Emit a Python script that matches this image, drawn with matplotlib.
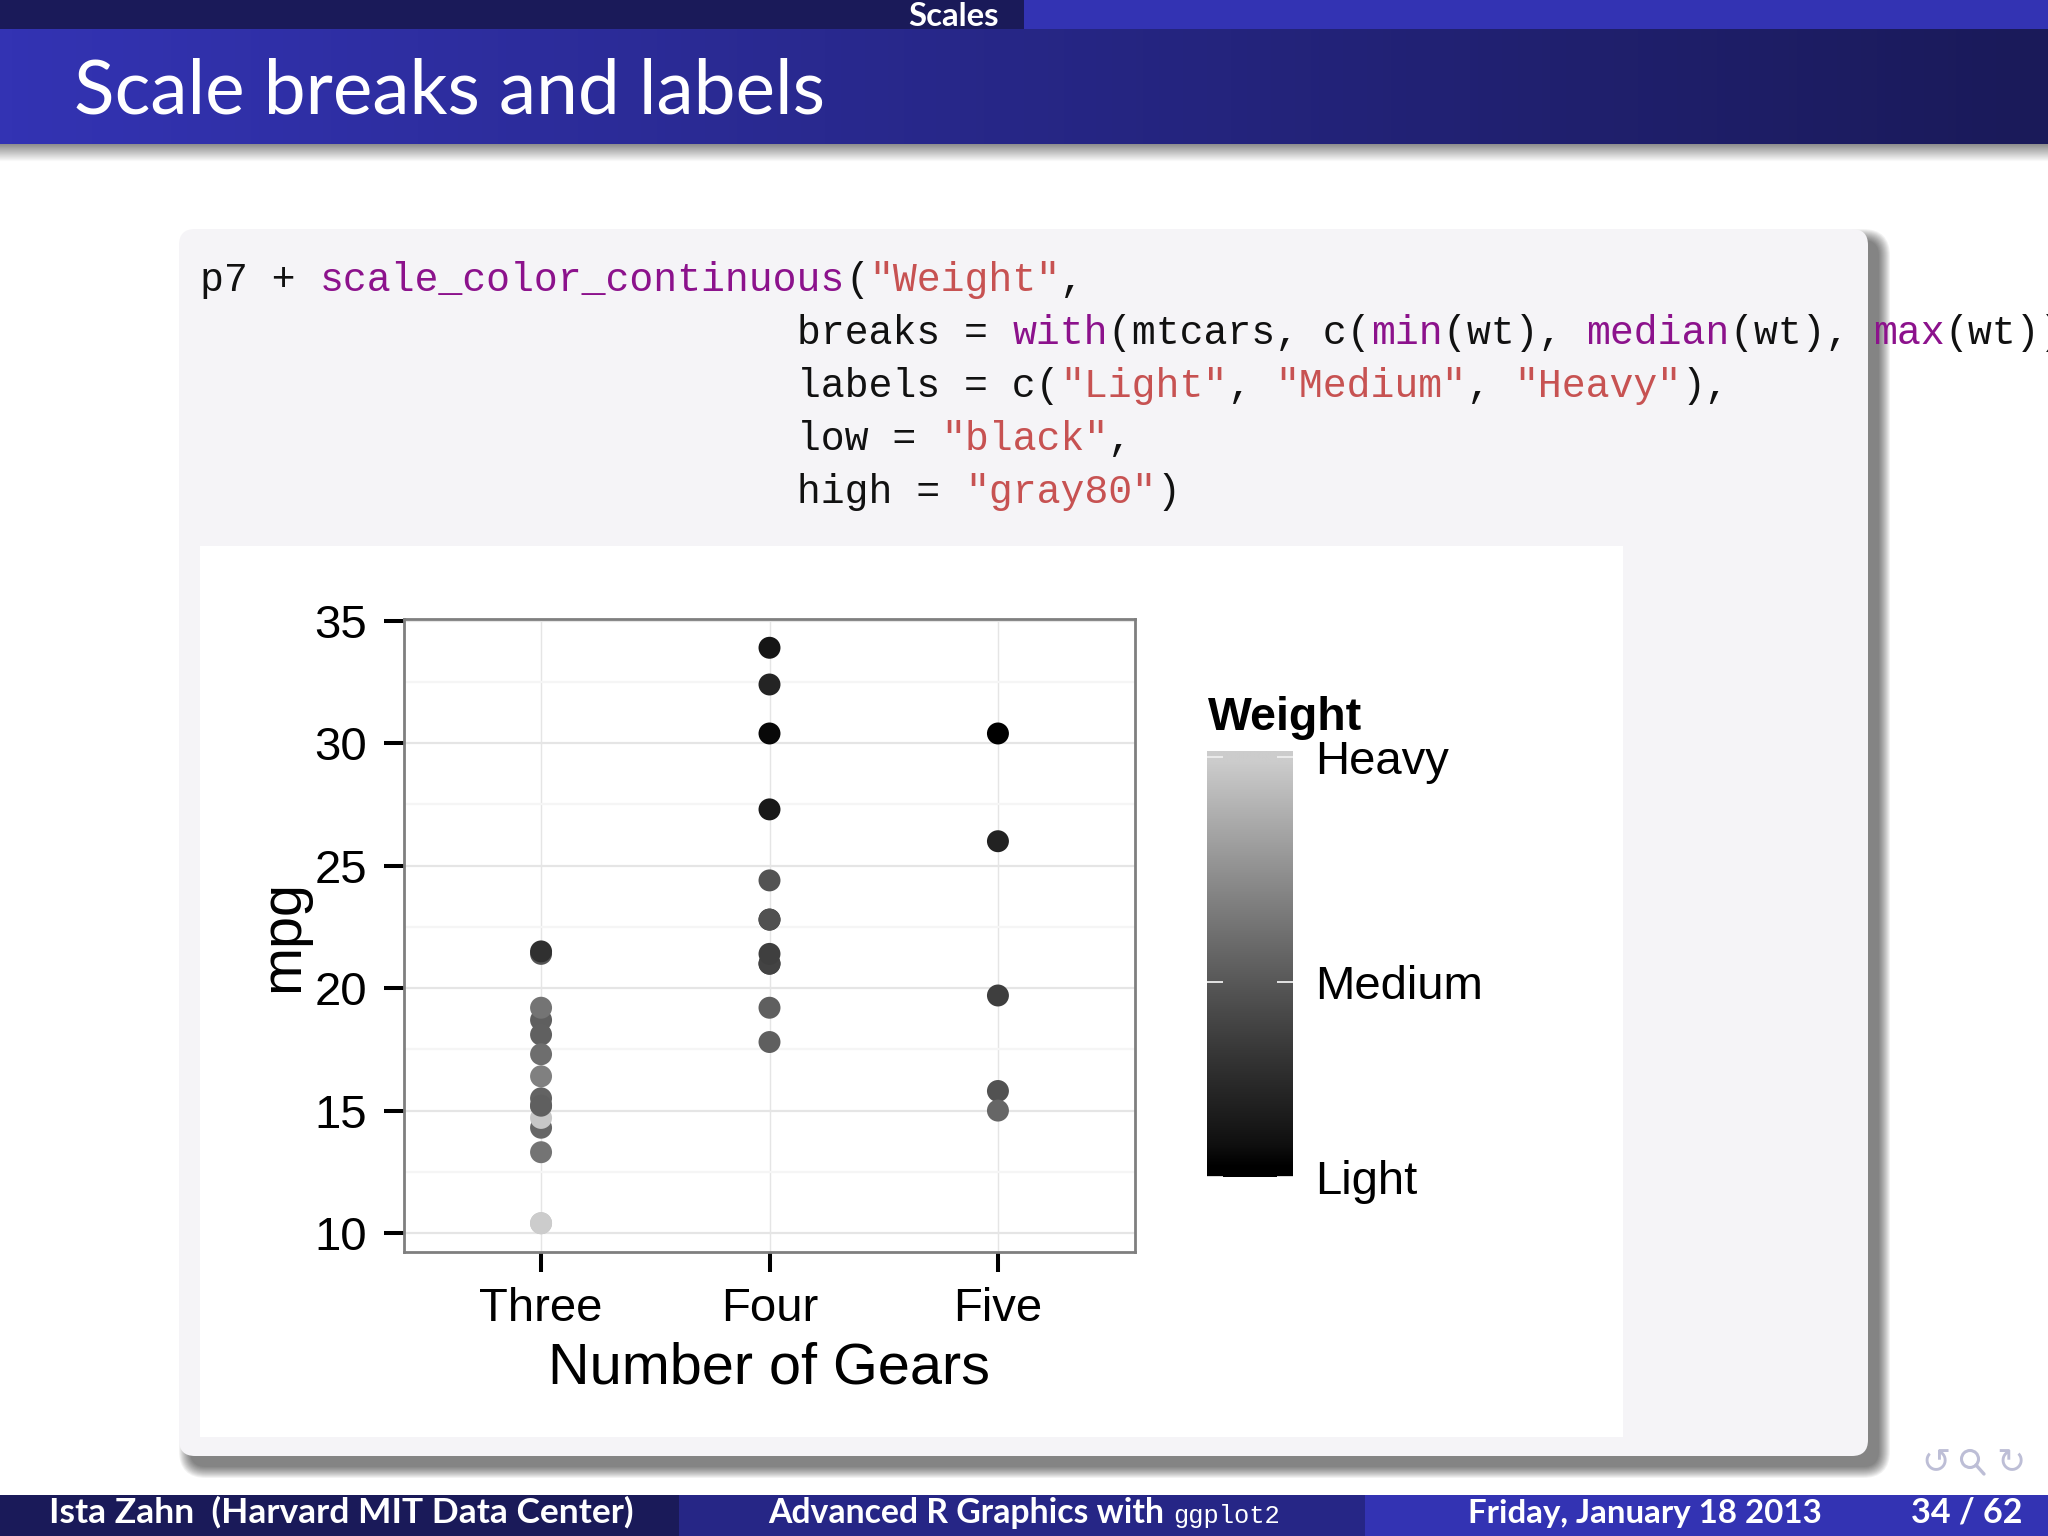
import matplotlib
matplotlib.use('Agg')

import matplotlib.pyplot as plt
import numpy as np
from matplotlib.patches import FancyBboxPatch, Rectangle, Circle
from matplotlib.colors import LinearSegmentedColormap

plt.rcParams['font.family'] = ['Liberation Sans', 'DejaVu Sans']

# mtcars: mpg, wt, gear
mpg = [21.0, 21.0, 22.8, 21.4, 18.7, 18.1, 14.3, 24.4, 22.8, 19.2, 17.8,
       16.4, 17.3, 15.2, 10.4, 10.4, 14.7, 32.4, 30.4, 33.9, 21.5, 15.5,
       15.2, 13.3, 19.2, 27.3, 26.0, 30.4, 15.8, 19.7, 15.0, 21.4]
wt = [2.620, 2.875, 2.320, 3.215, 3.440, 3.460, 3.570, 3.190, 3.150, 3.440,
      3.440, 4.070, 3.730, 3.780, 5.250, 5.424, 5.345, 2.200, 1.615, 1.835,
      2.465, 3.520, 3.435, 3.840, 3.845, 1.935, 2.140, 1.513, 3.170, 2.770,
      3.570, 2.780]
gear = [4, 4, 4, 3, 3, 3, 3, 4, 4, 4, 4, 3, 3, 3, 3, 3, 3, 4, 4, 4, 3, 3,
        3, 3, 3, 4, 5, 5, 5, 5, 5, 4]
gear_levels = [3, 4, 5]
gear_labels = ['Three', 'Four', 'Five']
weight_labels = ['Light', 'Medium', 'Heavy']
y_breaks = [10, 15, 20, 25, 30, 35]

# code shown on the slide, split into highlighted tokens
K, P, S = '#111111', '#8C128C', '#C75252'
code_lines = [
    [('p7 + ', K), ('scale_color_continuous', P), ('(', K), ('"Weight"', S), (',', K)],
    [(' ' * 25 + 'breaks = ', K), ('with', P), ('(mtcars, c(', K), ('min', P),
     ('(wt), ', K), ('median', P), ('(wt), ', K), ('max', P), ('(wt)),', K)],
    [(' ' * 25 + 'labels = c(', K), ('"Light"', S), (', ', K), ('"Medium"', S),
     (', ', K), ('"Heavy"', S), ('),', K)],
    [(' ' * 25 + 'low = ', K), ('"black"', S), (',', K)],
    [(' ' * 25 + 'high = ', K), ('"gray80"', S), (')', K)],
]

W, H = 2048, 1536
fig = plt.figure(figsize=(W / 100, H / 100), dpi=100)
rend = fig.canvas.get_renderer()


def px_rect(x0, y0, x1, y1):
    return [x0 / W, 1 - y1 / H, (x1 - x0) / W, (y1 - y0) / H]


def fit(t, width):
    bb = t.get_window_extent(renderer=rend)
    t.set_fontsize(t.get_fontsize() * width / bb.width)


# ggplot's black -> gray80 gradient, interpolated in Lab space
wmin, wmax = min(wt), max(wt)
lin80 = ((0.8 + 0.055) / 1.055) ** 2.4
L_hi = 116 * lin80 ** (1 / 3) - 16


def lab_gray(v):
    t = (np.asarray(v, float) - wmin) / (wmax - wmin)
    fy = (t * L_hi + 16) / 116
    Y = np.where(fy > 6 / 29, fy ** 3, 3 * (6 / 29) ** 2 * (fy - 4 / 29))
    return np.where(Y > 0.0031308, 1.055 * np.clip(Y, 1e-9, None) ** (1 / 2.4) - 0.055, 12.92 * Y)


# ---------- slide background ----------
bg = fig.add_axes([0, 0, 1, 1])
bg.axis('off')

dark, mid, blue = '#1A1A59', '#262686', '#3333B3'
bg.add_patch(Rectangle((0, 0), 1024, 29, color=dark, lw=0))
bg.add_patch(Rectangle((1024, 0), 1024, 29, color=blue, lw=0))
band = LinearSegmentedColormap.from_list('band', [blue, dark])
bg.imshow(np.linspace(0, 1, 256)[None, :], cmap=band, extent=[0, W, 144, 29],
          aspect='auto', interpolation='bilinear')
shade = np.zeros((32, 1, 4))
shade[:, 0, 3] = np.linspace(0.45, 0, 32)
bg.imshow(shade, extent=[0, W, 162, 144], aspect='auto', interpolation='bilinear')

t = bg.text(908, 26.5, 'Scales', color='white', fontsize=16, family='Lato',
            fontweight='bold', va='baseline')
fit(t, 91)
t = bg.text(74, 114, 'Scale breaks and labels', color='white', fontsize=50,
            family='Lato', fontweight='normal', va='baseline')
fit(t, 752)

# code block with shadow
for k in range(12):
    bg.add_patch(FancyBboxPatch((179 + 11 - k, 229 + 11 - k), 1689 + 2 * k, 1227 + 2 * k,
                                boxstyle='round,pad=0,rounding_size=%d' % (16 + k),
                                fc='black', ec='none', alpha=0.05))
bg.add_patch(FancyBboxPatch((179, 229), 1689, 1227, boxstyle='round,pad=0,rounding_size=16',
                            fc='#F5F4F7', ec='none'))
bg.add_patch(Rectangle((200, 546), 1423, 891, fc='white', ec='none'))

x0, cw = 200, 23.9
baselines = [291, 344, 397, 450, 503]
for line, yb in zip(code_lines, baselines):
    col = 0
    for tok, c in line:
        bg.text(x0 + col * cw, yb, tok, color=c, family='Liberation Mono',
                fontsize=cw / 0.6 * 0.72, va='baseline')
        col += len(tok)

# footer
bg.add_patch(Rectangle((0, 1495), 679, 41, color=dark, lw=0))
bg.add_patch(Rectangle((679, 1495), 686, 41, color=mid, lw=0))
bg.add_patch(Rectangle((1365, 1495), 683, 41, color=blue, lw=0))
foot = dict(color='white', family='Lato', fontweight='bold', fontsize=18, va='baseline')
fit(bg.text(49, 1523, 'Ista Zahn  (Harvard MIT Data Center)', **foot), 586)
fit(bg.text(768, 1523, 'Advanced R Graphics with', **foot), 397)
t = bg.text(1173, 1523, 'ggplot2', color='white', family='Liberation Mono', fontsize=18,
            va='baseline')
fit(t, 107)
fit(bg.text(1468, 1523, 'Friday, January 18 2013', **foot), 355)
fit(bg.text(1911, 1523, '34 / 62', **foot), 112)

# navigation symbols
nav = '#BDBED6'
bg.text(1936, 1463, '\u21ba', color=nav, fontsize=25, family='DejaVu Sans',
        ha='center', va='center')
bg.text(2011, 1463, '\u21bb', color=nav, fontsize=25, family='DejaVu Sans',
        ha='center', va='center')
bg.add_patch(Circle((1970, 1459), 8.5, fc='none', ec=nav, lw=2.2))
bg.plot([1976, 1984], [1465, 1474], color=nav, lw=2.4, solid_capstyle='round')

bg.set_xlim(0, W)
bg.set_ylim(H, 0)

# ---------- the ggplot panel ----------
ax = fig.add_axes(px_rect(404, 619, 1135, 1252))
xpos = [gear_levels.index(g) + 1 for g in gear]
g = lab_gray(wt)
ax.scatter(xpos, mpg, s=250, c=np.stack([g, g, g], axis=1), linewidths=0, zorder=3)
ax.set_xlim(0.4, 3.6)
ax.set_ylim(9.225, 35.075)
ax.set_xticks([1, 2, 3])
ax.set_xticklabels(gear_labels)
ax.set_yticks(y_breaks)
ax.set_yticks(np.arange(12.5, 35, 5), minor=True)
ax.set_axisbelow(True)
ax.grid(which='major', axis='y', color='#E5E5E5', lw=1.6)
ax.grid(which='major', axis='x', color='#E5E5E5', lw=1.0)
ax.grid(which='minor', axis='y', color='#F5F5F5', lw=1.6)
ax.tick_params(which='major', length=14.4, width=2.9, color='black', labelsize=34,
               labelcolor='black', direction='out')
ax.tick_params(axis='x', pad=10.8)
ax.tick_params(axis='y', pad=12.2)
ax.tick_params(which='minor', length=0)
for sp in ax.spines.values():
    sp.set_color('#7F7F7F')
    sp.set_linewidth(2.0)
ax.set_xlabel('Number of Gears', fontsize=41.5)
ax.xaxis.set_label_coords(0.5, -0.142)
ax.set_ylabel('mpg', fontsize=41.5)
ax.yaxis.set_label_coords(-0.1286, 0.5)

# ---------- colour bar legend ----------
breaks = [wmin, float(np.median(wt)), wmax]
top = wmax + 6 * (wmax - wmin) / 420
cax = fig.add_axes(px_rect(1207, 751, 1293, 1177))
vals = np.linspace(wmin, wmax, 20)
gv = lab_gray(vals)
cax.imshow(np.stack([gv, gv, gv], axis=1)[:, None, :], extent=[0, 1, wmin, top],
           origin='lower', aspect='auto', interpolation='bilinear')
cax.hlines(breaks, 0, 0.19, color='#EEEEEE', lw=1.3)
cax.hlines(breaks, 0.81, 1, color='#EEEEEE', lw=1.3)
cax.set_xlim(0, 1)
cax.set_ylim(wmin, top)
cax.set_xticks([])
cax.set_yticks(breaks)
cax.set_yticklabels(weight_labels)
cax.yaxis.tick_right()
cax.tick_params(axis='y', length=0, pad=15.8, labelsize=34)
for sp in cax.spines.values():
    sp.set_visible(False)

bg.text(1208, 730, 'Weight', fontsize=33.5, fontweight='bold', va='baseline')

fig.savefig('out.png', dpi=100)
